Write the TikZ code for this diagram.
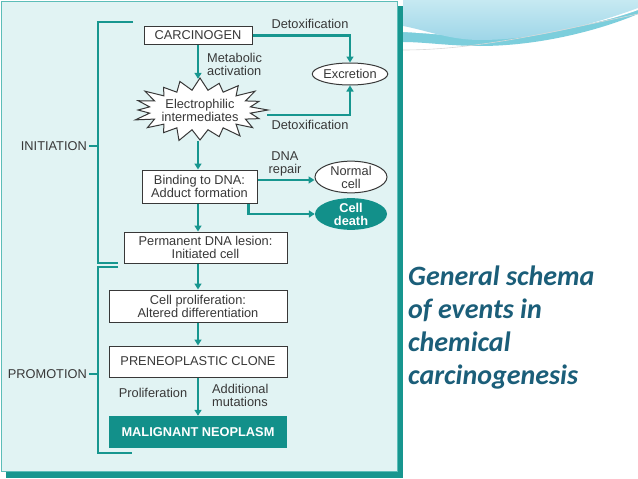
\documentclass[tikz,border=0pt]{standalone}
\usepackage{fontspec}
\setmainfont{Liberation Sans}
\newfontfamily\titlefont{Carlito}
\usetikzlibrary{shapes.geometric,shapes.symbols,arrows.meta}
\definecolor{tealA}{HTML}{17968F}
\definecolor{tealD}{HTML}{12908A}
\definecolor{panelbg}{HTML}{E1F3F3}
\definecolor{panelline}{HTML}{5CBDB8}
\definecolor{txt}{HTML}{383838}
\definecolor{titlec}{HTML}{1B5E79}
\definecolor{waveA}{HTML}{9ED6E8}
\definecolor{waveB}{HTML}{C6E9F2}
\definecolor{waveC}{HTML}{7CCEDC}
\begin{document}
\begin{tikzpicture}[x=1pt,y=-1pt,
  every node/.style={text=txt,font=\fontsize{12.8}{13}\selectfont},
  boxnode/.style={draw=txt,line width=1pt,fill=white,minimum width=#1,inner sep=0pt,align=center},
  ovalnode/.style={ellipse,draw=txt,line width=1pt,fill=white,inner sep=0pt,align=center},
  arr/.style={draw=tealA,line width=2.5pt,-{Triangle[width=7pt,length=6pt]}},
  brk/.style={draw=tealA,line width=2pt},
  lbl/.style={inner sep=0pt,align=left}
]
\useasboundingbox (0,0) rectangle (638,479);
\fill[white] (0,0) rectangle (638,479);
% header wave
\fill[waveC] (403,0) -- (638,0) -- (638,14) .. controls (600,30) and (540,46) .. (480,46) .. controls (450,46) and (425,42) .. (403,42) -- cycle;
\fill[white] (403,0) -- (638,0) -- (638,10) .. controls (600,24) and (540,36) .. (480,36) .. controls (450,36) and (425,33) .. (403,32) -- cycle;
\shade[top color=waveB,bottom color=waveA] (403,0) -- (638,0) -- (638,8) .. controls (600,22) and (540,40) .. (480,40) .. controls (450,40) and (425,30) .. (403,26) -- cycle;
\draw[gray!30,line width=0.6pt] (403,50) .. controls (480,50) and (560,30) .. (638,14);
% panel
\fill[tealA] (6,6) rectangle (403,478);
\fill[panelbg,draw=panelline,line width=1pt] (1,1) rectangle (397,471);

% starburst outline
\filldraw[fill=white,draw=txt,line width=1pt,line join=miter]
  plot[samples at={0,...,39},variable=\k]
  ({200+(68-17*mod(\k,2)-3*mod(\k,3)*(1-mod(\k,2)))*cos(\k*9)},
   {110+(32-12*mod(\k,2)-2*mod(\k,3)*(1-mod(\k,2)))*sin(\k*9)}) -- cycle;

% nodes
\node[boxnode=108pt,minimum height=18pt] (carc) at (198,35.5) {CARCINOGEN};
\node[ovalnode,minimum width=70pt,minimum height=22pt] (exc) at (350,74) {Excretion};
\node[ellipse,minimum width=134pt,minimum height=62pt,inner sep=0pt,align=center] (elec) at (200,110) {Electrophilic\\intermediates};
\node[boxnode=115pt,minimum height=33pt] (bind) at (199.5,186.5) {Binding to DNA:\\Adduct formation};
\node[ovalnode,minimum width=72pt,minimum height=30pt] (normal) at (351,177) {Normal\\cell};
\node[ellipse,fill=tealD,minimum width=72pt,minimum height=28pt,inner sep=0pt,align=center,text=white,font=\fontsize{12.8}{13}\selectfont\bfseries] (death) at (351,214) {Cell\\death};
\node[boxnode=163pt,minimum height=31pt] (perm) at (205.5,247.5) {Permanent DNA lesion:\\Initiated cell};
\node[boxnode=178pt,minimum height=32pt] (prol) at (198,306) {Cell proliferation:\\Altered differentiation};
\node[boxnode=178pt,minimum height=31pt] (pre) at (198,361.5) {PRENEOPLASTIC CLONE};
\node[fill=tealD,minimum width=178pt,minimum height=32pt,inner sep=0pt,text=white,font=\fontsize{12.8}{13}\selectfont\bfseries] (mal) at (198,432) {MALIGNANT NEOPLASM};

% labels
\node[lbl] (detox1) at (310,24) {Detoxification};
\node[lbl] (detox2) at (310,125) {Detoxification};
\node[lbl,anchor=west] (metab) at (207,64) {Metabolic\\activation};
\node[lbl,align=center] (repair) at (285,163.5) {DNA\\repair};
\node[lbl] (prolif) at (153,393) {Proliferation};
\node[lbl,anchor=west] (addm) at (212,395.5) {Additional\\mutations};
\node[lbl,anchor=east] (init) at (87,146) {INITIATION};
\node[lbl,anchor=east] (promo) at (87,374) {PROMOTION};

% connectors
\draw[arr] (carc.east) -| (exc.north);
\draw[arr] (carc.south -| 198,0) -- (elec.north -| 198,0);
\draw[arr] ([yshift=-5pt]elec.east) -| (exc.south);
\draw[arr] (elec.south -| 198,0) -- (bind.north -| 198,0);
\draw[arr] ([yshift=6.5pt]bind.east) -- ([yshift=6.5pt]bind.east -| normal.west);
\draw[arr] ([xshift=-9pt]bind.south east) |- (death.west);
\draw[arr] (bind.south -| 198,0) -- (perm.north -| 198,0);
\draw[arr] (perm.south -| 198,0) -- (prol.north);
\draw[arr] (prol.south) -- (pre.north);
\draw[arr] (pre.south) -- (mal.north);

% brackets
\draw[brk] (133,22) -- (98,22) -- (98,263) -- (118,263);
\draw[brk] (118,267) -- (98,267) -- (98,453) -- (132,453);
\draw[brk] ([xshift=2pt]init.east) -- (98,146);
\draw[brk] ([xshift=2pt]promo.east) -- (98,374);

% title
\begin{scope}[every node/.style={anchor=base west,inner sep=0pt,text=titlec,font=\titlefont\bfseries\itshape\fontsize{28}{33}\selectfont}]
\node (t1) at (408,285) {General schema};
\node (t2) at (408,318) {of events in};
\node (t3) at (408,351) {chemical};
\node (t4) at (408,384) {carcinogenesis};
\end{scope}
\end{tikzpicture}
\end{document}
